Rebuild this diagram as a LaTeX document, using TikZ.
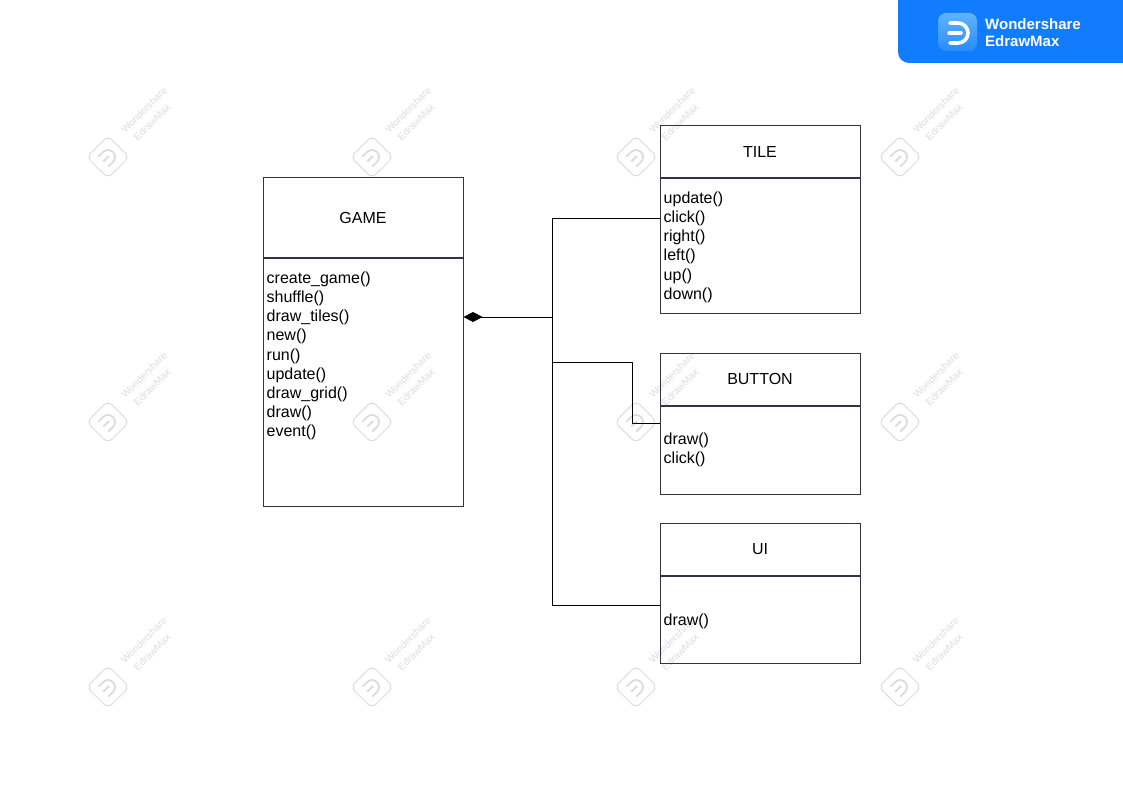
\documentclass[tikz,border=0pt]{standalone}
\usepackage{fontspec}
\setmainfont{Liberation Sans}
\usetikzlibrary{positioning,arrows.meta}

\definecolor{boxline}{RGB}{50,52,70}
\definecolor{wmgray}{RGB}{220,220,220}
\definecolor{bannerblue}{RGB}{18,124,255}
\definecolor{icontop}{RGB}{96,178,255}
\definecolor{iconbot}{RGB}{40,140,255}

\begin{document}
\begin{tikzpicture}[x=1pt,y=-1pt,
    classhead/.style={draw=boxline,line width=1pt,minimum width=200pt,inner sep=0pt,
      font=\fontsize{16}{19.2}\selectfont},
    classbody/.style={draw=boxline,line width=1pt,minimum width=200pt,inner sep=0pt},
    methods/.style={anchor=north west,align=left,inner sep=0pt,
      font=\fontsize{16}{19.2}\selectfont},
    link/.style={draw=black,line width=1pt},
    wmtext/.style={text=wmgray,rotate=45,inner sep=0pt,font=\fontsize{10}{11}\selectfont}]

    \newcommand*{\pageW}{1123}%
    \newcommand*{\pageH}{794}%
    \useasboundingbox (0,0) rectangle (\pageW,\pageH);

    % watermark grid
    \foreach \i in {0,...,3} {
      \foreach \j in {0,...,2} {
        \pgfmathsetmacro\wx{108+264*\i};
        \pgfmathsetmacro\wy{157+265*\j};
        \begin{scope}[shift={(\wx,\wy)}]
          \begin{scope}[rotate=45]
            \draw[wmgray,line width=1pt,rounded corners=6pt] (-15,-15) rectangle (15,15);
            \draw[wmgray,line width=1.8pt,line cap=round] (-6,-7) -- (0,-7) arc[start angle=-90,end angle=90,radius=7] -- (-6,7);
            \draw[wmgray,line width=1.8pt,line cap=round] (-6,0) -- (1,0);
          \end{scope}
          \node[wmtext] at (36,-47) {Wondershare};
          \node[wmtext] at (44,-35) {EdrawMax};
        \end{scope}
      }
    }

    % banner
    \fill[bannerblue,rounded corners=11pt] (898,-20) rectangle (1143,63);
    \shade[top color=icontop,bottom color=iconbot,rounded corners=8pt] (938,13) rectangle (977,51);
    \draw[white,line width=3.6pt,line cap=round] (950,23) -- (958,23) arc[start angle=-90,end angle=90,radius=10] -- (950,43);
    \draw[white,line width=3.6pt,line cap=round] (949,33) -- (961,33);
    \node[anchor=west,inner sep=0pt,text=white,font=\bfseries\fontsize{15}{16}\selectfont] (brandtop) at (985,24) {Wondershare};
    \node[anchor=west,inner sep=0pt,text=white,font=\bfseries\fontsize{15}{16}\selectfont] (brandbot) at (985,41) {EdrawMax};

    % classes
    \node[classhead,minimum height=79pt] (game) at (363,217.5) {GAME};
    \node[classbody,minimum height=248pt,below=0pt of game] (gamebody) {};
    \node[methods] (gameops) at ([shift={(4pt,-14pt)}]gamebody.north west)
      {create\_game()\\shuffle()\\draw\_tiles()\\new()\\run()\\update()\\draw\_grid()\\draw()\\event()};

    \node[classhead,minimum height=52pt] (tile) at (760,152) {TILE};
    \node[classbody,minimum height=134pt,below=0pt of tile] (tilebody) {};
    \node[methods] (tileops) at ([shift={(4pt,-13pt)}]tilebody.north west)
      {update()\\click()\\right()\\left()\\up()\\down()};

    \node[classhead,minimum height=52pt] (button) at (760,379) {BUTTON};
    \node[classbody,minimum height=88pt,below=0pt of button] (buttonbody) {};
    \node[methods] (buttonops) at ([shift={(4pt,-27pt)}]buttonbody.north west)
      {draw()\\click()};

    \node[classhead,minimum height=52pt] (ui) at (760,549) {UI};
    \node[classbody,minimum height=87pt,below=0pt of ui] (uibody) {};
    \node[methods] (uiops) at ([shift={(4pt,-38pt)}]uibody.north west)
      {draw()};

    % composition links
    \coordinate (hub) at (552,317);
    \coordinate (tilein) at ([yshift=-40pt]tilebody.north west);
    \coordinate (buttonin) at ([yshift=-18pt]buttonbody.north west);
    \coordinate (buttonbend) at (632,362);
    \coordinate (uiin) at ([yshift=-30pt]uibody.north west);

    \draw[link,{Diamond[length=19pt,width=10pt]}-] (gamebody.east |- hub) -- (hub);
    \draw[link] (tilein) -| (hub);
    \draw[link] (uiin) -| (hub);
    \draw[link] (hub |- buttonbend) -| (buttonbend |- buttonin) -- (buttonin);
  \end{tikzpicture}
\end{document}
